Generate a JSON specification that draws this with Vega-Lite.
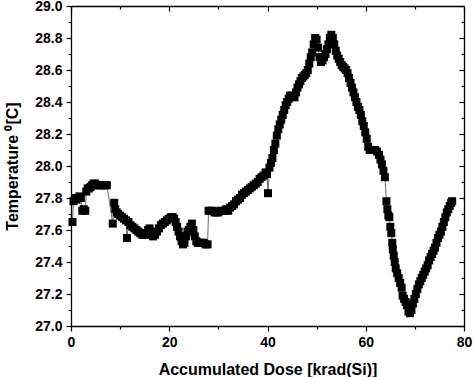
{
  "$schema": "https://vega.github.io/schema/vega-lite/v6.json",
  "width": 393,
  "height": 320,
  "autosize": {"type": "none"},
  "padding": {"left": 71, "top": 6, "right": 10, "bottom": 51},
  "background": "white",
  "config": {
    "view": {"stroke": null},
    "axis": {
      "domainColor": "black", "domainWidth": 1.3, "tickColor": "black", "tickWidth": 1.2,
      "labelFont": "Liberation Sans", "labelFontWeight": "bold", "labelFontSize": 14, "labelColor": "black",
      "titleFont": "Liberation Sans", "titleFontWeight": "bold", "titleFontSize": 16, "titleColor": "#000000",
      "grid": false
    }
  },
  "data": {"values": [
    {"dose":0.3,"temp":27.65},{"dose":0.5,"temp":27.78},{"dose":0.8,"temp":27.80},{"dose":1.1,"temp":27.79},{"dose":1.4,"temp":27.80},
    {"dose":1.7,"temp":27.81},{"dose":2.0,"temp":27.80},{"dose":2.3,"temp":27.72},{"dose":2.6,"temp":27.73},{"dose":2.9,"temp":27.72},
    {"dose":3.1,"temp":27.84},{"dose":3.4,"temp":27.86},{"dose":3.7,"temp":27.86},{"dose":4.0,"temp":27.87},{"dose":4.3,"temp":27.88},
    {"dose":4.6,"temp":27.89},{"dose":4.9,"temp":27.89},{"dose":5.2,"temp":27.88},{"dose":5.5,"temp":27.88},{"dose":5.8,"temp":27.88},
    {"dose":6.1,"temp":27.88},{"dose":6.4,"temp":27.88},{"dose":6.7,"temp":27.88},{"dose":7.0,"temp":27.88},{"dose":7.3,"temp":27.88},
    {"dose":8.5,"temp":27.64},{"dose":8.8,"temp":27.77},{"dose":9.0,"temp":27.73},{"dose":9.3,"temp":27.71},{"dose":9.6,"temp":27.70},
    {"dose":10.0,"temp":27.69},{"dose":10.4,"temp":27.68},{"dose":10.8,"temp":27.67},{"dose":11.2,"temp":27.66},{"dose":11.4,"temp":27.55},
    {"dose":11.7,"temp":27.65},{"dose":12.1,"temp":27.63},{"dose":12.5,"temp":27.62},{"dose":12.9,"temp":27.61},{"dose":13.3,"temp":27.60},
    {"dose":13.7,"temp":27.59},{"dose":14.1,"temp":27.58},{"dose":14.5,"temp":27.57},{"dose":14.9,"temp":27.57},{"dose":15.3,"temp":27.58},
    {"dose":15.7,"temp":27.60},{"dose":16.0,"temp":27.61},{"dose":16.3,"temp":27.57},{"dose":16.7,"temp":27.56},{"dose":17.1,"temp":27.57},
    {"dose":17.5,"temp":27.59},{"dose":17.9,"temp":27.61},{"dose":18.3,"temp":27.63},{"dose":18.7,"temp":27.64},{"dose":19.1,"temp":27.65},
    {"dose":19.5,"temp":27.66},{"dose":19.9,"temp":27.67},{"dose":20.3,"temp":27.68},{"dose":20.7,"temp":27.68},{"dose":21.0,"temp":27.67},
    {"dose":21.3,"temp":27.65},{"dose":21.6,"temp":27.62},{"dose":21.9,"temp":27.59},{"dose":22.2,"temp":27.56},{"dose":22.5,"temp":27.53},
    {"dose":22.8,"temp":27.51},{"dose":23.1,"temp":27.52},{"dose":23.4,"temp":27.56},{"dose":23.7,"temp":27.59},{"dose":24.0,"temp":27.60},
    {"dose":24.3,"temp":27.62},{"dose":24.6,"temp":27.64},{"dose":24.9,"temp":27.60},{"dose":25.2,"temp":27.56},{"dose":25.5,"temp":27.53},
    {"dose":25.8,"temp":27.52},{"dose":26.2,"temp":27.52},{"dose":26.6,"temp":27.52},{"dose":27.0,"temp":27.52},{"dose":27.4,"temp":27.51},
    {"dose":27.8,"temp":27.51},{"dose":28.0,"temp":27.72},{"dose":28.4,"temp":27.72},{"dose":28.8,"temp":27.72},{"dose":29.2,"temp":27.71},
    {"dose":29.6,"temp":27.71},{"dose":30.0,"temp":27.71},{"dose":30.4,"temp":27.72},{"dose":30.8,"temp":27.72},{"dose":31.2,"temp":27.72},
    {"dose":31.6,"temp":27.73},{"dose":32.0,"temp":27.72},{"dose":32.4,"temp":27.74},{"dose":32.8,"temp":27.75},{"dose":33.2,"temp":27.76},
    {"dose":33.6,"temp":27.78},{"dose":34.0,"temp":27.79},{"dose":34.4,"temp":27.80},{"dose":34.8,"temp":27.82},{"dose":35.2,"temp":27.83},
    {"dose":35.6,"temp":27.84},{"dose":36.0,"temp":27.85},{"dose":36.4,"temp":27.86},{"dose":36.8,"temp":27.87},{"dose":37.2,"temp":27.88},
    {"dose":37.6,"temp":27.89},{"dose":38.0,"temp":27.90},{"dose":38.4,"temp":27.92},{"dose":38.8,"temp":27.93},{"dose":39.2,"temp":27.94},
    {"dose":39.6,"temp":27.96},{"dose":39.9,"temp":27.95},{"dose":40.1,"temp":27.83},{"dose":40.4,"temp":27.99},{"dose":40.7,"temp":28.02},
    {"dose":41.0,"temp":28.05},{"dose":41.3,"temp":28.10},{"dose":41.6,"temp":28.14},{"dose":41.9,"temp":28.19},{"dose":42.2,"temp":28.23},
    {"dose":42.5,"temp":28.26},{"dose":42.8,"temp":28.29},{"dose":43.1,"temp":28.32},{"dose":43.4,"temp":28.35},{"dose":43.7,"temp":28.38},
    {"dose":44.0,"temp":28.40},{"dose":44.3,"temp":28.42},{"dose":44.6,"temp":28.44},{"dose":44.9,"temp":28.44},{"dose":45.2,"temp":28.43},
    {"dose":45.5,"temp":28.43},{"dose":45.8,"temp":28.46},{"dose":46.1,"temp":28.49},{"dose":46.4,"temp":28.51},{"dose":46.7,"temp":28.53},
    {"dose":47.0,"temp":28.55},{"dose":47.3,"temp":28.56},{"dose":47.6,"temp":28.57},{"dose":47.9,"temp":28.58},{"dose":48.2,"temp":28.60},
    {"dose":48.5,"temp":28.64},{"dose":48.8,"temp":28.68},{"dose":49.1,"temp":28.71},{"dose":49.4,"temp":28.76},{"dose":49.7,"temp":28.80},
    {"dose":50.0,"temp":28.79},{"dose":50.3,"temp":28.74},{"dose":50.6,"temp":28.68},{"dose":50.9,"temp":28.65},{"dose":51.2,"temp":28.66},
    {"dose":51.5,"temp":28.68},{"dose":51.8,"temp":28.70},{"dose":52.1,"temp":28.73},{"dose":52.4,"temp":28.76},{"dose":52.7,"temp":28.80},
    {"dose":53.0,"temp":28.82},{"dose":53.3,"temp":28.80},{"dose":53.6,"temp":28.76},{"dose":53.9,"temp":28.72},{"dose":54.2,"temp":28.69},
    {"dose":54.5,"temp":28.67},{"dose":54.8,"temp":28.65},{"dose":55.1,"temp":28.63},{"dose":55.4,"temp":28.62},{"dose":55.7,"temp":28.61},
    {"dose":56.0,"temp":28.60},{"dose":56.3,"temp":28.58},{"dose":56.6,"temp":28.55},{"dose":56.9,"temp":28.52},{"dose":57.2,"temp":28.49},
    {"dose":57.5,"temp":28.46},{"dose":57.8,"temp":28.43},{"dose":58.1,"temp":28.40},{"dose":58.4,"temp":28.37},{"dose":58.7,"temp":28.35},
    {"dose":59.0,"temp":28.32},{"dose":59.3,"temp":28.28},{"dose":59.6,"temp":28.25},{"dose":59.9,"temp":28.21},{"dose":60.2,"temp":28.17},
    {"dose":60.5,"temp":28.12},{"dose":60.8,"temp":28.10},{"dose":61.1,"temp":28.10},{"dose":61.5,"temp":28.10},{"dose":61.9,"temp":28.10},
    {"dose":62.3,"temp":28.09},{"dose":62.7,"temp":28.07},{"dose":63.0,"temp":28.04},{"dose":63.3,"temp":28.01},{"dose":63.6,"temp":27.97},
    {"dose":63.9,"temp":27.93},{"dose":64.2,"temp":27.78},{"dose":64.4,"temp":27.73},{"dose":64.6,"temp":27.69},{"dose":64.8,"temp":27.68},
    {"dose":65.0,"temp":27.62},{"dose":65.2,"temp":27.58},{"dose":65.4,"temp":27.52},{"dose":65.5,"temp":27.48},{"dose":65.7,"temp":27.44},
    {"dose":65.9,"temp":27.40},{"dose":66.1,"temp":27.36},{"dose":66.4,"temp":27.33},{"dose":66.7,"temp":27.30},{"dose":67.0,"temp":27.27},
    {"dose":67.3,"temp":27.24},{"dose":67.5,"temp":27.19},{"dose":67.8,"temp":27.17},{"dose":68.1,"temp":27.15},{"dose":68.4,"temp":27.13},
    {"dose":68.7,"temp":27.09},{"dose":69.0,"temp":27.08},{"dose":69.3,"temp":27.10},{"dose":69.6,"temp":27.14},{"dose":69.9,"temp":27.17},
    {"dose":70.2,"temp":27.20},{"dose":70.5,"temp":27.23},{"dose":70.8,"temp":27.26},{"dose":71.1,"temp":27.28},{"dose":71.4,"temp":27.30},
    {"dose":71.7,"temp":27.32},{"dose":72.0,"temp":27.34},{"dose":72.3,"temp":27.36},{"dose":72.6,"temp":27.38},{"dose":72.9,"temp":27.41},
    {"dose":73.2,"temp":27.43},{"dose":73.5,"temp":27.45},{"dose":73.8,"temp":27.47},{"dose":74.1,"temp":27.49},{"dose":74.4,"temp":27.52},
    {"dose":74.7,"temp":27.55},{"dose":75.0,"temp":27.57},{"dose":75.3,"temp":27.59},{"dose":75.6,"temp":27.62},{"dose":75.9,"temp":27.65},
    {"dose":76.2,"temp":27.68},{"dose":76.5,"temp":27.71},{"dose":76.8,"temp":27.73},{"dose":77.1,"temp":27.75},{"dose":77.4,"temp":27.77},
    {"dose":77.6,"temp":27.78}
  ]},
  "resolve": {"axis": {"x": "independent", "y": "independent"}},
  "layer": [
    {
      "mark": {"type": "line", "color": "#444", "strokeWidth": 0.8},
      "encoding": {
        "x": {"field": "dose", "type": "quantitative", "scale": {"domain": [0, 80], "nice": false},
          "axis": {"orient": "bottom", "title": "Accumulated Dose [krad(Si)]",
            "values": [0,10,20,30,40,50,60,70,80],
            "labelExpr": "datum.value % 20 === 0 ? datum.label : ''",
            "tickSize": {"condition": {"test": "datum.value % 20 === 0", "value": 5}, "value": 3},
            "labelPadding": 4, "titlePadding": 12, "labelFlush": false}},
        "y": {"field": "temp", "type": "quantitative", "scale": {"domain": [27, 29], "nice": false, "zero": false},
          "axis": {"orient": "left", "title": "Temperature ⁰[C]",
            "values": [27.0,27.1,27.2,27.3,27.4,27.5,27.6,27.7,27.8,27.9,28.0,28.1,28.2,28.3,28.4,28.5,28.6,28.7,28.8,28.9,29.0],
            "format": ".1f",
            "labelExpr": "round(datum.value*10) % 2 === 0 ? datum.label : ''",
            "tickSize": {"condition": {"test": "round(datum.value*10) % 2 === 0", "value": 5}, "value": 3},
            "labelPadding": 4, "titlePadding": 14, "labelFlush": false}}
      }
    },
    {
      "mark": {"type": "point", "shape": "square", "filled": true, "color": "black", "size": 64, "opacity": 1},
      "encoding": {
        "x": {"field": "dose", "type": "quantitative",
          "axis": {"orient": "top", "title": null, "labels": false,
            "values": [0,10,20,30,40,50,60,70,80],
            "tickSize": {"condition": {"test": "datum.value % 20 === 0", "value": -5}, "value": -3}}},
        "y": {"field": "temp", "type": "quantitative",
          "axis": {"orient": "right", "title": null, "labels": false,
            "values": [27.0,27.1,27.2,27.3,27.4,27.5,27.6,27.7,27.8,27.9,28.0,28.1,28.2,28.3,28.4,28.5,28.6,28.7,28.8,28.9,29.0],
            "tickSize": {"condition": {"test": "round(datum.value*10) % 2 === 0", "value": -5}, "value": -3}}}
      }
    }
  ]
}
